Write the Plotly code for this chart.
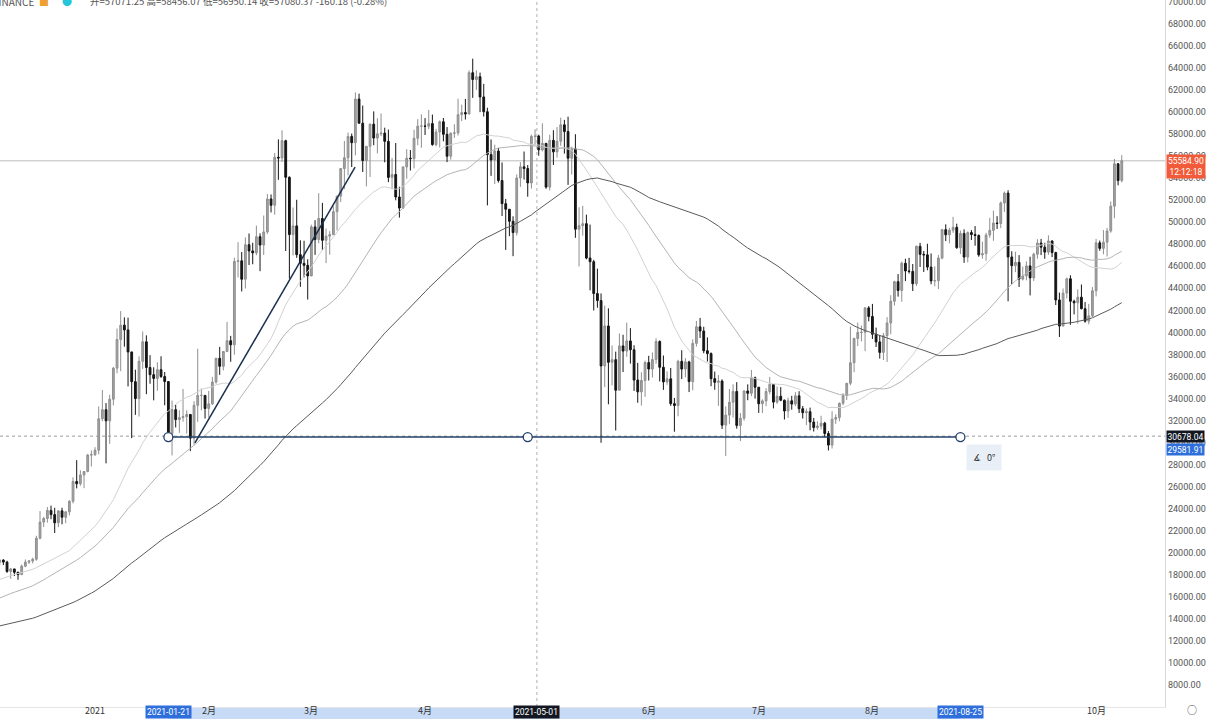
import pandas as pd
import plotly.graph_objects as go

# ---------------- DATA (BTC/USDT daily) ----------------
first_day = "2020-12-06"

# closes before the visible window, only used to warm up the moving averages (2020-08-29 .. 2020-12-05)
warmup_closes = [
    11530, 11700, 11650,
    11920, 11390, 10170, 10470, 10170, 10250, 10370, 10130, 10340, 10390, 10440, 10330, 10680, 10790, 10950,
    10940, 11080, 10920, 11090, 10920, 10420, 10530, 10240, 10740, 10690, 10730, 10770, 10690, 10840, 10780,
    10620, 10570, 10550, 10670, 10790, 10600, 10670, 10920, 11060, 11300, 11380, 11540, 11430, 11430, 11500,
    11320, 11370, 11510, 11750, 11920, 12820, 12990, 12930, 13130, 13040, 13070, 13650, 13280, 13460, 13560, 13800,
    13760, 13550, 14020, 14150, 15590, 15590, 14840, 15480, 15330, 15310, 15700, 16280, 16320, 16070, 15960,
    16720, 17660, 17800, 17820, 18650, 18700, 18420, 18370, 19160, 18740, 17150, 17140, 17720, 18180, 19700,
    18760, 19200, 19420, 18650, 19150,
]

closes = [
    # Dec 2020 (6-31)
    19360, 19170, 18320, 18550, 18250, 18030, 18800, 19170, 19270, 19430, 21340, 22800, 23130, 23860, 23480,
    22740, 23820, 23240, 23730, 24690, 26490, 26280, 27080, 27390, 28880, 28920,
    # Jan 2021
    29330, 32180, 33000, 31990, 33950, 36770, 39370, 40670, 40240, 38240, 35540, 34010, 37390, 39160, 36830,
    36180, 35840, 36630, 36010, 35550, 30830, 33000, 32100, 32280, 32370, 32570, 30420, 33400, 34300, 34300, 33110,
    # Feb
    33530, 35510, 37670, 36940, 38290, 39260, 38890, 46450, 46510, 44840, 47970, 47410, 47230, 48700, 47940,
    49130, 52120, 51550, 55900, 55840, 57410, 54090, 48890, 49680, 47070, 46280, 46100, 45140,
    # Mar
    49590, 48440, 50350, 48370, 48750, 48880, 50970, 52380, 54880, 55860, 57800, 57230, 61190, 59000, 55610,
    56900, 58910, 57650, 58030, 58100, 57350, 54080, 54340, 52300, 51300, 55030, 55820, 55780, 57630, 58730, 58740,
    # Apr
    58720, 58960, 57060, 58200, 59130, 57990, 56000, 58090, 58120, 59770, 59960, 59840, 63580, 62960, 63220,
    61380, 60040, 56150, 55660, 56470, 53800, 51700, 51190, 50100, 49070, 54030, 55040, 54880, 53580, 57800,
    # May
    57830, 56580, 57170, 53200, 57440, 56400, 57360, 58850, 58240, 55820, 56670, 49380, 49700, 49880, 46760,
    46430, 43540, 42900, 36970, 40600, 37300, 37540, 34770, 38790, 38320, 39240, 38440, 35690, 34620, 35650, 37280,
    # Jun
    36690, 37560, 39190, 36850, 35520, 35800, 33550, 33380, 37390, 36690, 37340, 35550, 39020, 40520, 40140,
    38350, 38090, 35820, 35480, 35600, 31600, 32510, 33680, 34660, 31570, 32230, 34700, 34490, 35900, 35040,
    # Jul
    33540, 33800, 34650, 35290, 33690, 34220, 33860, 32880, 33810, 33510, 34260, 33090, 32730, 32820, 31880,
    31380, 31520, 31780, 30840, 29790, 32140, 32290, 33580, 34290, 35400, 37260, 39460, 40010, 40020, 42240, 41460,
    # Aug
    39850, 39150, 38200, 39720, 40870, 42840, 44620, 43820, 46290, 45590, 45550, 44430, 47830, 47100, 47050,
    45940, 44690, 44710, 46760, 49340, 48870, 49290, 49550, 47710, 48990, 46850, 49070, 48900, 48810, 47050, 47160,
    # Sep
    48850, 49280, 49940, 49900, 51760, 52660, 46860, 46070, 46370, 44850, 45140, 46050, 44960, 47110, 48120,
    47750, 47300, 48310, 47260, 42960, 40590, 43580, 44880, 42840, 42700, 43210, 42170, 41030, 41520, 43790,
    # Oct (1-8)
    48140, 47640, 48200, 49220, 51470, 55320, 53790, 55584,
]

highs = [
    19420, 19420, 19290, 18640, 18560, 18290, 18950, 19410, 19350, 19570, 21560, 23800, 23280, 24170, 24300,
    24100, 23840, 24100, 23780, 24790, 26870, 28420, 27500, 27410, 28990, 29300,
    29600, 33300, 34780, 33600, 34360, 36880, 40360, 41950, 41380, 41350, 38260, 36630, 37850, 40100, 39750,
    37950, 36850, 37300, 37850, 36420, 35600, 33830, 33450, 32950, 34880, 32940, 32550, 33780, 38530, 34930, 34330,
    34700, 35980, 37700, 38700, 38310, 40960, 39700, 46790, 48200, 47310, 48630, 48990, 48150, 49710, 49000,
    50620, 52580, 52530, 56300, 57530, 58350, 57500, 54180, 51350, 52050, 48370, 48330, 46650,
    49790, 50200, 52640, 51770, 49450, 49200, 51450, 52400, 54900, 57380, 58150, 58060, 61800, 61680, 60600,
    56940, 58970, 60070, 59450, 59880, 58590, 58420, 55840, 57200, 53230, 55070, 56640, 56560, 58400, 59370, 59800,
    59460, 60200, 59780, 58490, 59250, 59470, 58650, 58150, 58900, 61220, 60680, 61200, 63780, 64850, 63800,
    63590, 62570, 60400, 57520, 57050, 56760, 55440, 52130, 51170, 50550, 54350, 55460, 56430, 55200, 57960,
    58450, 57950, 58980, 57200, 57950, 58360, 58650, 59500, 59300, 59590, 56870, 58000, 51370, 51500, 50700,
    49800, 46600, 45800, 43550, 42450, 42200, 38830, 38270, 39920, 39800, 40900, 40400, 38850, 37250, 36400, 37450,
    37890, 38200, 39480, 39290, 37920, 36480, 36790, 34070, 37530, 38400, 37680, 37440, 39390, 41060, 41330,
    40530, 39560, 38200, 36460, 36140, 35750, 33300, 34880, 35300, 35500, 32700, 34750, 35300, 36600, 36000,
    35040, 33940, 34950, 35970, 35290, 35100, 35050, 33920, 34100, 34260, 34600, 34680, 33340, 33110, 33190,
    32250, 31950, 32450, 31900, 31060, 32860, 32580, 33650, 34500, 35400, 40550, 39540, 40900, 40640, 42320, 42400,
    42600, 40450, 39780, 39970, 41400, 43390, 44700, 45310, 46450, 46700, 46780, 46220, 47890, 48140, 47400,
    48060, 47180, 46000, 47050, 49400, 49820, 49500, 50500, 49880, 49260, 49370, 49180, 49300, 49660, 48900, 48240,
    49050, 50410, 51060, 50560, 51890, 52800, 52920, 47380, 47340, 47030, 45990, 46460, 46880, 47250, 48470,
    48500, 48150, 48820, 48370, 47330, 43630, 44000, 44980, 45200, 42980, 43920, 44360, 42780, 42600, 44130,
    48500, 48350, 49300, 49500, 51890, 55750, 55330, 56100,
]

lows = [
    18860, 18900, 18200, 17650, 17910, 17570, 18020, 18710, 19000, 19050, 19290, 21230, 22350, 22750, 23060,
    21810, 22350, 22600, 22700, 23400, 24500, 25860, 26100, 25880, 27320, 27850,
    28800, 28950, 31950, 28130, 29900, 33400, 36300, 36500, 38720, 35110, 30420, 32530, 32380, 36700, 34410,
    35360, 33850, 34720, 35880, 33400, 30070, 28850, 31390, 30900, 31910, 30830, 29240, 29830, 31900, 32940, 32200,
    32300, 33420, 35360, 36160, 36570, 38220, 37350, 37990, 45000, 43730, 44000, 46130, 46200, 47020, 45570,
    47050, 48950, 50900, 50700, 53860, 55480, 47400, 44890, 47000, 46780, 44150, 45000, 43000,
    45110, 47050, 48100, 47500, 46300, 47070, 48880, 49270, 51850, 53030, 54270, 55020, 56080, 58970, 54570,
    53270, 54120, 57000, 56260, 57820, 55450, 53650, 53000, 52000, 50430, 51230, 53960, 54700, 54900, 57000, 56770,
    57930, 58450, 56950, 56900, 56790, 57350, 55470, 55700, 57670, 57880, 59180, 59330, 59770, 61300, 62020,
    60000, 59600, 51540, 54220, 53480, 53610, 50580, 47500, 48750, 46930, 48800, 53220, 53880, 52330, 53070,
    57010, 56050, 56440, 53050, 52900, 55200, 55880, 56940, 56240, 53400, 54340, 48600, 46000, 48800, 46650,
    43830, 42000, 42250, 30000, 35050, 33490, 35200, 31110, 34770, 36420, 37800, 37180, 34700, 33630, 33380, 34170,
    35650, 35920, 37170, 35570, 34800, 35260, 33350, 31000, 32400, 35780, 35940, 34600, 34760, 38730, 39510,
    38120, 37370, 35130, 34810, 33350, 31250, 28800, 31690, 32300, 31280, 30150, 32000, 33860, 34230, 34000,
    32710, 32700, 33320, 34400, 33120, 33530, 33770, 32110, 32260, 33000, 33320, 32700, 32200, 31600, 31130,
    31020, 31180, 31220, 30500, 29300, 29480, 31710, 31950, 33400, 33880, 35210, 36400, 38770, 39200, 38310, 41020,
    39420, 38690, 37640, 37510, 37330, 39850, 42450, 43260, 42800, 44670, 45350, 43770, 44230, 45950, 45500,
    45650, 44380, 44200, 43950, 46640, 48300, 48100, 49050, 47600, 47130, 46330, 46380, 48400, 47880, 46880, 46700,
    46520, 48600, 48330, 49400, 49470, 50950, 42840, 44400, 45480, 44140, 44730, 44740, 43370, 44680, 46700,
    47030, 46700, 47050, 46850, 42500, 39600, 40560, 43090, 40700, 41650, 40800, 42100, 40900, 40750, 41410,
    43280, 47420, 47100, 46900, 49060, 50380, 53360, 53620,
]

ma_periods = [30, 50, 100]
ma_colors = ["#d2d2d2", "#b4b4b4", "#5a5a5a"]

month_tick_dates = ["2021-01-01", "2021-02-01", "2021-03-01", "2021-04-01", "2021-06-01", "2021-07-01", "2021-08-01", "2021-10-01"]
month_tick_labels = ["2021", "2月", "3月", "4月", "6月", "7月", "8月", "10月"]
price_ticks = list(range(8000, 70001, 2000))

# drawing objects on the chart
hline_price = 30520
hline_start, hline_mid, hline_end = "2021-01-21", "2021-04-29", "2021-08-25"
trend_start, trend_end = ("2021-01-28 06:00", 29980), ("2021-03-12 22:00", 55020)
crosshair_date, crosshair_price = "2021-05-01 12:00", 30600
last_price = 55584.90
x_left, x_right = "2020-12-06 02:00", "2021-10-19 19:00"
y_low, y_high = 6022, 70178

# ---------------- FIGURE ----------------
PLOT_H = 707
BOTTOM = -12 / PLOT_H   # paper y of the figure's bottom edge

dates = pd.date_range(first_day, periods=len(closes), freq="D")
opens = [warmup_closes[-1]] + closes[:-1]   # 24/7 market: open = previous close

all_c = pd.Series(warmup_closes + closes, dtype=float)
n_w = len(warmup_closes)

fig = go.Figure()
for p, col in zip(ma_periods, ma_colors):
    ma = all_c.rolling(p).mean().iloc[n_w:].values
    fig.add_trace(go.Scatter(x=dates, y=ma, mode="lines", line=dict(color=col, width=1), hoverinfo="skip"))

fig.add_trace(go.Candlestick(
    x=dates, open=opens, high=highs, low=lows, close=closes,
    increasing=dict(line=dict(color="#8f8f8f", width=1), fillcolor="#a3a3a3"),
    decreasing=dict(line=dict(color="#151515", width=1), fillcolor="#151515"),
    whiskerwidth=0, hoverinfo="skip",
))

fig.add_trace(go.Scatter(x=[hline_start, hline_end], y=[hline_price, hline_price], mode="lines",
                         line=dict(color="#22406a", width=1.5), hoverinfo="skip"))
fig.add_trace(go.Scatter(x=[trend_start[0], trend_end[0]], y=[trend_start[1], trend_end[1]], mode="lines",
                         line=dict(color="#1c2f4f", width=1.5), hoverinfo="skip"))
fig.add_trace(go.Scatter(x=[hline_start, hline_mid, hline_end], y=[hline_price] * 3, mode="markers",
                         marker=dict(size=9, color="white", line=dict(color="#22406a", width=1.3)), hoverinfo="skip"))

shapes = [
    dict(type="line", xref="paper", x0=0, x1=1, yref="y", y0=last_price, y1=last_price,
         line=dict(color="#bdbdbd", width=1), layer="below"),
    dict(type="line", xref="paper", x0=0, x1=1, yref="y", y0=crosshair_price, y1=crosshair_price,
         line=dict(color="#9a9a9a", width=1, dash="dot"), layer="below"),
    dict(type="line", xref="x", x0=crosshair_date, x1=crosshair_date, yref="paper", y0=BOTTOM, y1=1,
         line=dict(color="#b0b0b0", width=1, dash="dot"), layer="below"),
    dict(type="rect", xref="x", x0=hline_start, x1=hline_end, yref="paper", y0=BOTTOM, y1=0,
         fillcolor="#c8dbf6", line=dict(width=0), layer="below"),
]

ann = []
for d, t in zip(month_tick_dates, month_tick_labels):
    ann.append(dict(x=d, y=BOTTOM, xref="x", yref="paper", text=t, showarrow=False, xanchor="center",
                    yanchor="bottom", font=dict(size=9, color="#333")))
for v in price_ticks:
    ann.append(dict(x=1, y=v, xref="paper", yref="y", text=f"{v:.2f}", showarrow=False, xanchor="left",
                    yanchor="middle", xshift=1, font=dict(size=9, color="#555", family="Roboto, sans-serif")))

def box(x, y, text, bg, xref="x", yref="y", xanchor="center", yanchor="middle", fs=8.5, xshift=0, yshift=0, pad=1):
    ann.append(dict(x=x, y=y, xref=xref, yref=yref, text=text, showarrow=False, bgcolor=bg,
                    font=dict(color="white", size=fs, family="Roboto, sans-serif"),
                    xanchor=xanchor, yanchor=yanchor, borderpad=pad, xshift=xshift, yshift=yshift))

box(1, last_price, "55584.90<br>12:12:18", "#f15b3a", xref="paper", xanchor="left", yanchor="top",
    xshift=1, yshift=7)
box(1, 30600, "30678.04", "#131722", xref="paper", xanchor="left", xshift=1, pad=0.5)
box(1, 30600, "29581.91", "#2e6fdb", xref="paper", xanchor="left", yanchor="top", xshift=1, yshift=-7, pad=0.5)
box(hline_start, BOTTOM, "2021-01-21", "#2e6fdb", yref="paper", yanchor="bottom")
box(crosshair_date, BOTTOM, "2021-05-01", "#131722", yref="paper", yanchor="bottom")
box(hline_end, BOTTOM, "2021-08-25", "#2e6fdb", yref="paper", yanchor="bottom")

ann.append(dict(x="2021-08-26 12:00", y=28650, xref="x", yref="y", text="∡   0°", showarrow=False,
                bgcolor="#e9eff7", font=dict(color="#333", size=9), xanchor="left", yanchor="middle", borderpad=6))
# header (cut by the top edge, as in the screenshot)
hdr_font = dict(color="#555", size=10)
ann.append(dict(x=0, y=1, xref="paper", yref="paper", xanchor="right", yanchor="middle", xshift=36, yshift=-1,
                text="BINANCE", showarrow=False, font=hdr_font))
ann.append(dict(x=0, y=1, xref="paper", yref="paper", xanchor="center", yanchor="middle", xshift=44, yshift=-1,
                text="<span style='color:#f0a030'>■</span>", showarrow=False, font=hdr_font))
ann.append(dict(x=0, y=1, xref="paper", yref="paper", xanchor="center", yanchor="middle", xshift=67, yshift=-1,
                text="<span style='color:#26c6da'>●</span>", showarrow=False, font=hdr_font))
ann.append(dict(x=0, y=1, xref="paper", yref="paper", xanchor="left", yanchor="middle", xshift=88, yshift=-1,
                text="开=57071.25 高=58456.07 低=56950.14 收=57080.37 -160.18 (-0.28%)",
                showarrow=False, font=dict(color="#555", size=9.5)))
ann.append(dict(x=1, y=BOTTOM, xref="paper", yref="paper", xanchor="left", yanchor="bottom", xshift=20,
                text="○", showarrow=False, font=dict(color="#444", size=10)))

fig.update_layout(
    width=1206, height=719,
    margin=dict(l=0, r=41, t=0, b=12, autoexpand=False),
    paper_bgcolor="white", plot_bgcolor="white",
    showlegend=False,
    font=dict(family="Noto Sans CJK SC, Roboto, sans-serif", color="#333"),
    shapes=shapes, annotations=ann,
    xaxis=dict(type="date", range=[x_left, x_right], rangeslider=dict(visible=False), automargin=False,
               showgrid=False, zeroline=False, showticklabels=False, ticks="", showline=True, linecolor="#e6e6e6"),
    yaxis=dict(side="right", range=[y_low, y_high], automargin=False, showticklabels=False,
               showgrid=False, zeroline=False, ticks="", showline=True, linecolor="#d8d8d8"),
)

fig.write_html("out.html", config={"displayModeBar": False},
               post_script="document.body.style.margin='0';document.body.style.overflow='hidden';")
